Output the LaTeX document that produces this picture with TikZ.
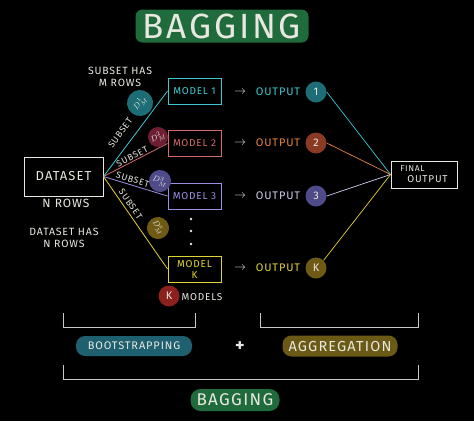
\documentclass[tikz,border=0pt]{standalone}
\usepackage{amsmath, amssymb}
\usepackage{fontspec}
\setmainfont[LetterSpace=8]{Fira Sans}
\usepackage{xcolor, tikz}
\usetikzlibrary{positioning}

\definecolor{chalk}{HTML}{E8E8E0}
\definecolor{cyanline}{HTML}{3CC8D0}
\definecolor{tealdisc}{HTML}{1C6D75}
\definecolor{redline}{HTML}{D46A6A}
\definecolor{maroondisc}{HTML}{6E1E32}
\definecolor{purpleline}{HTML}{9D90E4}
\definecolor{purpledisc}{HTML}{4F4A88}
\definecolor{yellowline}{HTML}{E2D432}
\definecolor{olivedisc}{HTML}{6E5A14}
\definecolor{orangetext}{HTML}{E8843C}
\definecolor{rustdisc}{HTML}{8A3A22}
\definecolor{lavtext}{HTML}{D0CCF0}
\definecolor{kdisc}{HTML}{8C201C}
\definecolor{baggreen}{HTML}{1F6B3C}
\definecolor{bootpill}{HTML}{1E6070}
\definecolor{aggpill}{HTML}{6B5A16}
\definecolor{bracketgray}{HTML}{C8C8C8}

\begin{document}
\begin{tikzpicture}[x=1pt, y=-1pt,
        chalktext/.style={text=chalk, inner sep=0pt, font=\fontsize{10}{11}\selectfont, align=center},
        modelbox/.style={draw, line width=0.9pt, minimum width=53pt, minimum height=26pt, inner sep=1pt, align=center, font=\fontsize{10}{11}\selectfont},
        outdisc/.style={circle, minimum size=21pt, inner sep=0pt, text=chalk, font=\fontsize{11}{11}\selectfont},
        subdisc/.style={circle, inner sep=0pt, text=chalk, font=\fontsize{8}{8}\selectfont},
        pill/.style={rounded corners=9pt, inner sep=0pt, text=chalk},
        subsetlbl/.style={sloped, text=chalk, inner sep=0pt, font=\fontsize{9}{10}\selectfont}]

        % Draw the background
            \fill[black] (0,0) rectangle (474,421);

        % Draw the title
            \node[pill, rounded corners=7pt, fill=baggreen, minimum width=173pt, minimum height=33pt, font=\fontsize{35}{35}\selectfont] (title) at (222,26) {BAGGING};

        % Draw the dataset
            \node[draw=chalk, line width=0.9pt, minimum width=79pt, minimum height=39pt, text=chalk, font=\fontsize{13}{14}\selectfont] (data) at (63.5,176.5) {DATASET};
            \node[chalktext, font=\fontsize{12}{13}\selectfont] (nrows) at (66,203) {N ROWS};
            \node[chalktext, font=\fontsize{10.5}{12}\selectfont] (datanote) at (64,238) {DATASET HAS\\N ROWS};
            \node[chalktext, font=\fontsize{10.5}{12}\selectfont] (subnote) at (120,77) {SUBSET HAS\\M ROWS};

        % Draw the models
            \node[modelbox, draw=cyanline, text=cyanline] (m1) at (194.5,91) {MODEL 1};
            \node[modelbox, draw=redline, text=redline] (m2) at (194.5,143.5) {MODEL 2};
            \node[modelbox, draw=purpleline, text=purpleline] (m3) at (194.5,196) {MODEL 3};
            \node[modelbox, draw=yellowline, text=yellowline] (mk) at (194.5,269) {MODEL\\K};
            \fill[chalk] (191,219) circle (1.3) (191,231) circle (1.3) (191,244) circle (1.3);
            \node[outdisc, fill=kdisc] (kdot) at (169,296) {K};
            \node[chalktext] (kmodels) at (202,297) {MODELS};

        % Draw the subsets
            \draw[cyanline, line width=0.8pt] (data.east) -- node[subsetlbl, pos=0.42, above=9pt] {SUBSET} (m1.west);
            \draw[redline, line width=0.8pt] (data.east) -- node[subsetlbl, pos=0.48, above=1pt] {SUBSET} (m2.west);
            \draw[purpleline, line width=0.8pt] (data.east) -- node[subsetlbl, pos=0.43, above=2pt] {SUBSET} (m3.west);
            \draw[yellowline, line width=0.8pt] (data.east) -- node[subsetlbl, pos=0.34, above=3pt] {SUBSET} (mk.west);
            \node[subdisc, fill=tealdisc, minimum size=26pt, rotate=52] (d1) at (140,103) {$D^{1}_{M}$};
            \node[subdisc, fill=maroondisc, minimum size=20pt, rotate=27] (d2) at (158,137) {$D^{2}_{M}$};
            \node[subdisc, fill=purpledisc, minimum size=22pt, rotate=-17] (d3) at (160,181) {$D^{3}_{M}$};
            \node[subdisc, fill=olivedisc, minimum size=22pt, rotate=-54] (dk) at (158,228) {$D^{x}_{M}$};

        % Draw the outputs
            \node[chalktext, font=\fontsize{12}{12}\selectfont] (a1) at (240,92) {$\rightarrow$};
            \node[chalktext, font=\fontsize{12}{12}\selectfont] (a2) at (240,143) {$\rightarrow$};
            \node[chalktext, font=\fontsize{12}{12}\selectfont] (a3) at (240,196) {$\rightarrow$};
            \node[chalktext, font=\fontsize{12}{12}\selectfont] (ak) at (240,268) {$\rightarrow$};
            \node[chalktext, text=cyanline, font=\fontsize{11}{12}\selectfont] (o1) at (278,92) {OUTPUT};
            \node[chalktext, text=orangetext, font=\fontsize{11}{12}\selectfont] (o2) at (278,143) {OUTPUT};
            \node[chalktext, text=lavtext, font=\fontsize{11}{12}\selectfont] (o3) at (278,196) {OUTPUT};
            \node[chalktext, text=yellowline, font=\fontsize{11}{12}\selectfont] (ok) at (278,268) {OUTPUT};
            \node[outdisc, fill=tealdisc] (c1) at (316,92) {1};
            \node[outdisc, fill=rustdisc] (c2) at (316,143) {2};
            \node[outdisc, fill=purpledisc] (c3) at (316,196) {3};
            \node[outdisc, fill=olivedisc] (ck) at (316,268) {K};

        % Draw the aggregation
            \node[draw=chalk, line width=0.9pt, minimum width=66pt, minimum height=27pt, text=chalk, align=left, inner sep=2pt, font=\fontsize{10}{11}\selectfont] (final) at (424,174.5) {{\fontsize{8.5}{10}\selectfont FINAL}\\\hspace*{7pt}OUTPUT};
            \draw[cyanline, line width=0.7pt] (c1.east) -- (final.west);
            \draw[orangetext, line width=0.7pt] (c2.east) -- (final.west);
            \draw[lavtext, line width=0.7pt] (c3.east) -- (final.west);
            \draw[yellowline, line width=0.7pt] (ck.north east) -- (final.west);

        % Draw the brackets
            \draw[bracketgray, line width=1pt] (63,313) -- (63,327) -- (195,327) -- (195,313);
            \draw[bracketgray, line width=1pt] (260,313) -- (260,327) -- (418,327) -- (418,313);
            \draw[bracketgray, line width=1pt] (63,365) -- (63,379) -- (418,379) -- (418,365);

        % Draw the summary
            \node[pill, fill=bootpill, minimum width=116pt, minimum height=20pt, font=\fontsize{11}{11}\selectfont] (boot) at (134,346) {BOOTSTRAPPING};
            \node[chalktext, font=\fontsize{18}{18}\selectfont\bfseries] (plus) at (240,347) {+};
            \node[pill, fill=aggpill, minimum width=115pt, minimum height=21pt, font=\fontsize{14.5}{14.5}\selectfont] (agg) at (340,346) {AGGREGATION};
            \node[pill, rounded corners=10pt, fill=baggreen, minimum width=89pt, minimum height=22pt, font=\fontsize{17}{17}\selectfont] (bagging) at (235,400) {BAGGING};
    \end{tikzpicture}
\end{document}
